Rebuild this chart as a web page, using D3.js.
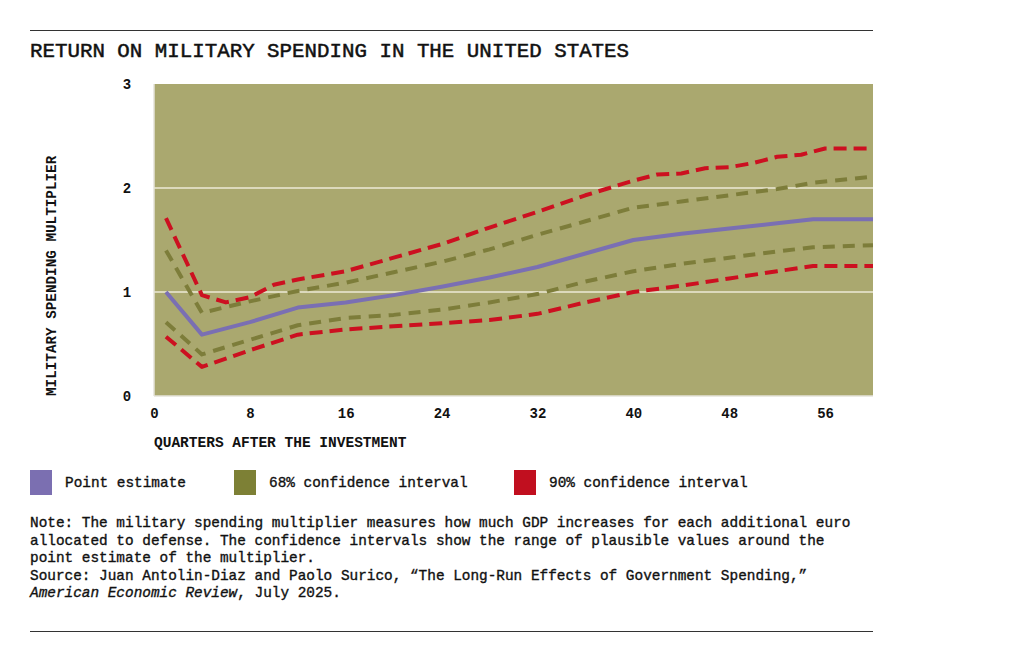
<!DOCTYPE html>
<html>
<head>
<meta charset="utf-8">
<script src="https://cdn.jsdelivr.net/npm/d3@7"></script>
<style>
  html, body { margin: 0; padding: 0; background: #ffffff; }
  svg { display: block; }
  text { font-family: "Liberation Mono", "DejaVu Sans Mono", monospace; fill: #111; }
  .med { stroke: #111; stroke-width: 0.35px; }
</style>
</head>
<body>
<svg id="chart" width="1024" height="662"></svg>
<script>
// ---- Data ----
const titleText = "RETURN ON MILITARY SPENDING IN THE UNITED STATES";
const yAxisTitle = "MILITARY SPENDING MULTIPLIER";
const xAxisTitle = "QUARTERS AFTER THE INVESTMENT";
const xTicks = [0, 8, 16, 24, 32, 40, 48, 56];
const yTicks = [0, 1, 2, 3];

const pointQuarters = [1, 4, 8, 12, 16, 20, 24, 28, 32, 36, 40, 44, 48, 52, 55, 60];
const pointEstimate = [1.00, 0.59, 0.71, 0.85, 0.90, 0.97, 1.05, 1.14, 1.24, 1.37, 1.50, 1.56, 1.61, 1.66, 1.70, 1.70];

const ci68Quarters = [1, 4, 8, 12, 16, 20, 24, 28, 32, 36, 40, 44, 48, 52, 55, 60];
const ci68Upper = [1.40, 0.80, 0.91, 1.01, 1.09, 1.19, 1.29, 1.41, 1.55, 1.68, 1.81, 1.87, 1.93, 1.99, 2.05, 2.11];
const ci68Lower = [0.71, 0.40, 0.54, 0.68, 0.75, 0.78, 0.83, 0.90, 0.98, 1.10, 1.20, 1.27, 1.33, 1.39, 1.43, 1.45];

const ci90Quarters = [1, 4, 6, 8, 10, 12, 16, 20, 24, 28, 32, 36, 40, 42, 44, 46, 48, 50, 52, 54, 56, 60];
const ci90Upper = [1.71, 0.97, 0.90, 0.95, 1.07, 1.12, 1.20, 1.33, 1.46, 1.62, 1.77, 1.93, 2.07, 2.13, 2.14, 2.19, 2.20, 2.24, 2.30, 2.32, 2.38, 2.38];
const ci90LowerQuarters = [1, 4, 8, 12, 16, 20, 24, 28, 32, 36, 40, 44, 48, 52, 55, 60];
const ci90Lower = [0.57, 0.28, 0.44, 0.59, 0.64, 0.67, 0.70, 0.73, 0.79, 0.90, 1.00, 1.06, 1.13, 1.20, 1.25, 1.25];

const legendLabels = ["Point estimate", "68% confidence interval", "90% confidence interval"];
const legendColors = ["#7b6fb1", "#7d8035", "#c10f1f"];

const noteLines = [
  "Note: The military spending multiplier measures how much GDP increases for each additional euro",
  "allocated to defense. The confidence intervals show the range of plausible values around the",
  "point estimate of the multiplier."
];
const sourceLine1 = "Source: Juan Antolin-Diaz and Paolo Surico, \u201CThe Long-Run Effects of Government Spending,\u201D";
const sourceItalic = "American Economic Review";
const sourceRest = ", July 2025.";

// ---- Layout ----
const svg = d3.select("#chart");
const plot = { left: 154, right: 873, top: 84, bottom: 396 };

const x = d3.scaleLinear().domain([0, 60]).range([plot.left, plot.right]);
const y = d3.scaleLinear().domain([0, 3]).range([plot.bottom, plot.top]);

// top / bottom rules
svg.append("line").attr("x1", 30).attr("x2", 873).attr("y1", 30.5).attr("y2", 30.5)
  .attr("stroke", "#333").attr("stroke-width", 1.2);
svg.append("line").attr("x1", 30).attr("x2", 873).attr("y1", 631.5).attr("y2", 631.5)
  .attr("stroke", "#333").attr("stroke-width", 1.2);

// title
svg.append("text").attr("class", "med").attr("x", 30).attr("y", 57).attr("font-size", "20.8px")
  .style("stroke-width", "0.5px").text(titleText);

// plot background
svg.append("rect").attr("x", x(0)).attr("y", y(3)).attr("width", x(60) - x(0)).attr("height", y(0) - y(3))
  .attr("fill", "#aaa86f");

// gridlines
svg.append("g").selectAll("line").data(yTicks.filter(d => d > 0 && d < 3)).join("line")
  .attr("x1", x(0)).attr("x2", x(60))
  .attr("y1", d => y(d)).attr("y2", d => y(d))
  .attr("stroke", "#ecead6").attr("stroke-width", 1.5);

// left and bottom axis lines
svg.append("line").attr("x1", x(0)).attr("x2", x(0)).attr("y1", y(3)).attr("y2", y(0))
  .attr("stroke", "#e4e3da").attr("stroke-width", 1.5);
svg.append("line").attr("x1", x(0)).attr("x2", x(60)).attr("y1", y(0)).attr("y2", y(0))
  .attr("stroke", "#e4e3da").attr("stroke-width", 1.5);

// Y axis ticks (via d3 axis)
const yAxis = d3.axisLeft(y).tickValues(yTicks).tickSize(0).tickPadding(0).tickFormat(d3.format("d"));
const yG = svg.append("g").attr("transform", `translate(${plot.left - 26},0)`).call(yAxis);
yG.select(".domain").remove();
yG.selectAll("text").attr("font-family", "Liberation Mono, monospace").attr("font-size", "14px")
  .attr("font-weight", "bold").attr("fill", "#111").attr("text-anchor", "middle").attr("dx", "-1");

// X axis ticks
const xAxis = d3.axisBottom(x).tickValues(xTicks).tickSize(0).tickPadding(0).tickFormat(d3.format("d"));
const xG = svg.append("g").attr("transform", `translate(0,${plot.bottom + 12})`).call(xAxis);
xG.select(".domain").remove();
xG.selectAll("text").attr("font-family", "Liberation Mono, monospace").attr("font-size", "14px")
  .attr("font-weight", "bold").attr("fill", "#111");

// axis titles
svg.append("text").attr("x", plot.left).attr("y", 447).attr("font-size", "14.5px").attr("font-weight", "bold")
  .text(xAxisTitle);
svg.append("text").attr("transform", `translate(56,${plot.bottom}) rotate(-90)`)
  .attr("font-size", "14.3px").attr("font-weight", "bold").text(yAxisTitle);

// lines
const line = d3.line().x(d => x(d[0])).y(d => y(d[1]));
svg.append("clipPath").attr("id", "plotclip").append("rect")
  .attr("x", x(0)).attr("y", y(3)).attr("width", x(60) - x(0)).attr("height", y(0) - y(3));

const lines = svg.append("g").attr("clip-path", "url(#plotclip)");
function addLine(qs, vs, color, dash, width) {
  lines.append("path").datum(d3.zip(qs, vs)).attr("d", line)
    .attr("fill", "none").attr("stroke", color).attr("stroke-width", width)
    .attr("stroke-dasharray", dash).attr("stroke-linejoin", "round");
}
addLine(ci68Quarters, ci68Upper, "#7d7d3a", "12,8", 4);
addLine(ci68Quarters, ci68Lower, "#7d7d3a", "12,8", 4);
addLine(ci90Quarters, ci90Upper, "#cc1020", "13,7", 4);
addLine(ci90LowerQuarters, ci90Lower, "#cc1020", "13,7", 4);
addLine(pointQuarters, pointEstimate, "#7a6fb3", null, 4);

// legend
const legendX = [30, 234, 514];
const lg = svg.append("g").selectAll("g").data(legendLabels).join("g")
  .attr("transform", (d, i) => `translate(${legendX[i]},470)`);
lg.append("rect").attr("width", 22).attr("height", 25).attr("fill", (d, i) => legendColors[i]);
lg.append("text").attr("class", "med").attr("x", 35).attr("y", 17).attr("font-size", "14.4px").text(d => d);

// notes
const notes = svg.append("g");
noteLines.forEach((t, i) => {
  notes.append("text").attr("class", "med").attr("x", 30).attr("y", 527 + i * 17.6).attr("font-size", "14.4px").text(t);
});
notes.append("text").attr("class", "med").attr("x", 30).attr("y", 527 + 3 * 17.6).attr("font-size", "14.4px").text(sourceLine1);
const last = notes.append("text").attr("class", "med").attr("x", 30).attr("y", 527 + 4 * 17.6).attr("font-size", "14.4px");
last.append("tspan").attr("font-style", "italic").text(sourceItalic);
last.append("tspan").text(sourceRest);
</script>
</body>
</html>
